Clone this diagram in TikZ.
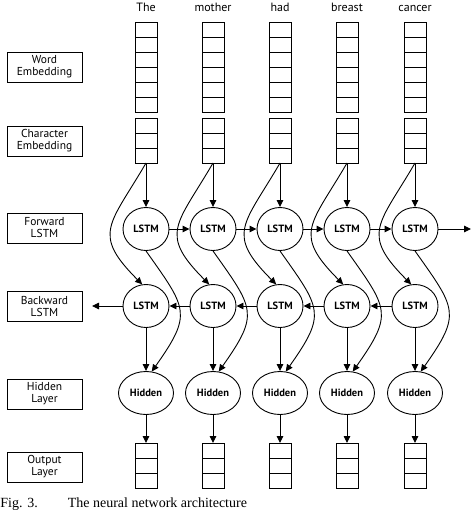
\documentclass[tikz,border=0pt]{standalone}
\usepackage{fontspec}
\setmainfont{PT Sans}
\newfontfamily\capfont{Liberation Serif}
\usetikzlibrary{shapes.geometric,arrows.meta}
\begin{document}
\begin{tikzpicture}[x=1pt,y=-1pt,
  line width=0.9pt,
  cellbox/.style={draw,minimum width=22pt,inner sep=0pt,outer sep=0pt},
  lbl/.style={draw,minimum width=75pt,minimum height=30pt,inner sep=0pt,align=center,font=\fontsize{11.5}{12}\selectfont},
  lstm/.style={draw,ellipse,minimum width=46pt,minimum height=43pt,inner sep=0pt,font=\bfseries\fontsize{10.5}{12}\selectfont},
  hid/.style={draw,ellipse,minimum width=55pt,minimum height=43pt,inner sep=0pt,font=\bfseries\fontsize{10.5}{12}\selectfont},
  arr/.style={-{Triangle[length=7pt,width=6.5pt]}},
  wordlbl/.style={font=\fontsize{12}{13}\selectfont,anchor=base,inner sep=0pt}
]
\useasboundingbox (0,0) rectangle (474,516);

% left labels
\node[lbl] (lw) at (44.5,67) {Word\\Embedding};
\node[lbl] (lc) at (44.5,141) {Character\\Embedding};
\node[lbl] (lf) at (44.5,228) {Forward\\LSTM};
\node[lbl] (lb) at (44.5,306) {Backward\\LSTM};
\node[lbl] (lh) at (44.5,394) {Hidden\\Layer};
\node[lbl] (lo) at (44.5,467) {Output\\Layer};

\foreach \i/\c/\w in {1/146/The,2/213/mother,3/280/had,4/347/breast,5/415/cancer}{
  \node[wordlbl] (t\i) at (\c,12) {\w};
  \node[cellbox,minimum height=90pt] (w\i) at (\c,67) {};
  \foreach \k in {1,...,5} \draw (w\i.north west) ++(0,15*\k) -- ++(22,0);
  \node[cellbox,minimum height=45pt] (ch\i) at (\c,140.5) {};
  \foreach \k in {1,2} \draw (ch\i.north west) ++(0,15*\k) -- ++(22,0);
  \node[lstm] (f\i) at (\c,229) {LSTM};
  \node[lstm] (b\i) at (\c,306) {LSTM};
  \node[hid] (h\i) at (\c,393) {Hidden};
  \node[cellbox,minimum height=45pt] (o\i) at (\c,465.5) {};
  \foreach \k in {1,2} \draw (o\i.north west) ++(0,15*\k) -- ++(22,0);
  \draw[arr] (ch\i.south) -- (f\i.north);
  \draw[arr] (b\i.south) -- (h\i.north);
  \draw[arr] (h\i.south) -- (o\i.north);
  \draw[arr] (ch\i.south) .. controls +(-36,62) and +(-51,-51) .. (b\i.100);
  \draw[arr] (f\i.south) .. controls +(41,58) and +(41,-58) .. (h\i.75);
}
\foreach \i/\j in {1/2,2/3,3/4,4/5}{
  \draw[arr] (f\i.east) -- (f\j.west);
  \draw[arr] (b\j.west) -- (b\i.east);
}
\coordinate (fend) at (471,229);
\coordinate (bend) at (92,306);
\draw[arr] (f5.east) -- (fend);
\draw[arr] (b1.west) -- (bend);

\node[anchor=west,inner sep=0pt,font=\capfont\fontsize{14}{16}\selectfont] (cap) at (0,504) {Fig. 3.\hspace{30pt}The neural network architecture};
\end{tikzpicture}
\end{document}
